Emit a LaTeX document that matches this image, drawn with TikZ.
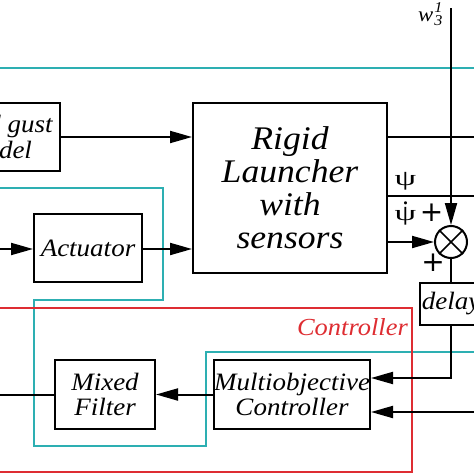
\documentclass[tikz,border=0pt]{standalone}
\usepackage{graphicx}
\usepackage{fontspec}
\setmainfont[FakeStretch=1.08]{Liberation Serif}
\newfontfamily\grk{Liberation Serif}
\newfontfamily\plusfont{DejaVu Sans}
\usetikzlibrary{arrows.meta,calc}
\definecolor{cyanline}{RGB}{45,175,178}
\definecolor{redline}{RGB}{222,45,50}
\newcommand\psiglyph{\scalebox{1.5}[0.95]{ψ}}
\newcommand\mydotpsi{\setbox0=\hbox{\psiglyph}\rlap{\hbox to \wd0{\hss\raisebox{\dimexpr\ht0+2.5pt\relax}{\fontsize{26}{26}\selectfont.}\hss}}\box0}
\begin{document}
\begin{tikzpicture}[x=1pt,y=-1pt,
  blk/.style={draw,line width=2pt,rectangle,inner sep=0pt,align=center,
    font=\fontsize{25}{25.5}\selectfont\itshape},
  conn/.style={line width=2pt},
  arr/.style={conn,-{Triangle[length=22pt,width=12pt]}},
  cyanpath/.style={cyanline,line width=1.7pt},
  redpath/.style={redline,line width=1.9pt},
  lbl/.style={inner sep=0pt,font=\grk\fontsize{23}{23}\selectfont},
  plus/.style={inner sep=0pt,font=\plusfont\fontsize{28}{28}\selectfont},
]
\useasboundingbox (0,0) rectangle (474,474);
\clip (0,0) rectangle (474,474);

% cyan and red outlines
\draw[cyanpath] (-5,68) -- (480,68);
\draw[cyanpath] (-5,188) -- (163,188) -- (163,300) -- (34,300) -- (34,446)
  -- (206,446) -- (206,352) -- (480,352);
\draw[redpath] (-10,308) -- (412,308) -- (412,472) -- (-10,472);
\node[anchor=base east,inner sep=0pt,text=redline,
  font=\fontsize{24.5}{24.5}\selectfont\itshape] (ctl) at (408,335) {Controller};

% blocks
\node[blk,minimum width=122pt,minimum height=68pt] (gust) at (-1,137) {Wind gust\\model};
\node[blk,minimum width=194pt,minimum height=170pt,
  font=\fontsize{33}{33}\selectfont\itshape] (rigid) at (290,188)
  {Rigid\\Launcher\\with\\sensors};
\node[blk,minimum width=108pt,minimum height=68pt] (act) at (88,248) {Actuator};
\node[blk,minimum width=100pt,minimum height=69pt] (mixed) at (105,394.5) {Mixed\\Filter};
\node[blk,minimum width=156pt,minimum height=69pt] (multi) at (292,394.5)
  {Multiobjective\\Controller};
\node[blk,minimum width=62pt,minimum height=42pt] (delay) at (451,304) {delay};
\node[draw,circle,line width=2pt,minimum size=32pt,inner sep=0pt] (sum) at (451,242) {};
\draw[line width=1.7pt] (sum.north west) -- (sum.south east)
  (sum.north east) -- (sum.south west);

% labels
\node[lbl,anchor=base] (psi) at (405.5,185) {\psiglyph};
\node[lbl,anchor=base] (dpsi) at (405.5,220) {\mydotpsi};
\node[plus] (p1) at (431.5,212.5) {+};
\node[plus] (p2) at (433,262.5) {+};
\node[anchor=base west,inner sep=0pt,font=\fontsize{21}{21}\selectfont] (w) at (418,21)
  {\textit{w}\hspace{1pt}\rlap{\raisebox{9pt}{\fontsize{15}{15}\selectfont\textit{1}}}\raisebox{-4pt}{\fontsize{15}{15}\selectfont\textit{3}}};

% coordinates for free ends
\coordinate (actin) at (0,249);
\coordinate (o1) at (480,137);
\coordinate (o2) at (480,196);
\coordinate (wtop) at (451,8);
\coordinate (r2) at (480,412);
\coordinate (l1) at (-5,394.5);

% connectors
\draw[arr] (gust.east) -- (gust.east -| rigid.west);
\draw[arr] (actin) -- (actin -| act.west);
\draw[arr] (actin -| act.east) -- (actin -| rigid.west);
\draw[conn] (o1 -| rigid.east) -- (o1);
\draw[conn] (o2 -| rigid.east) -- (o2);
\draw[arr] (sum.west -| rigid.east) -- (sum.west);
\draw[arr] (wtop) -- (sum.north);
\draw[conn] (sum.south) -- (delay.north);
\draw[arr] (delay.south) |- ($(multi.east)+(0,-16.5)$);
\draw[arr] (r2) -- (r2 -| multi.east);
\draw[arr] (multi.west) -- (mixed.east);
\draw[conn] (mixed.west) -- (l1);
\end{tikzpicture}
\end{document}
